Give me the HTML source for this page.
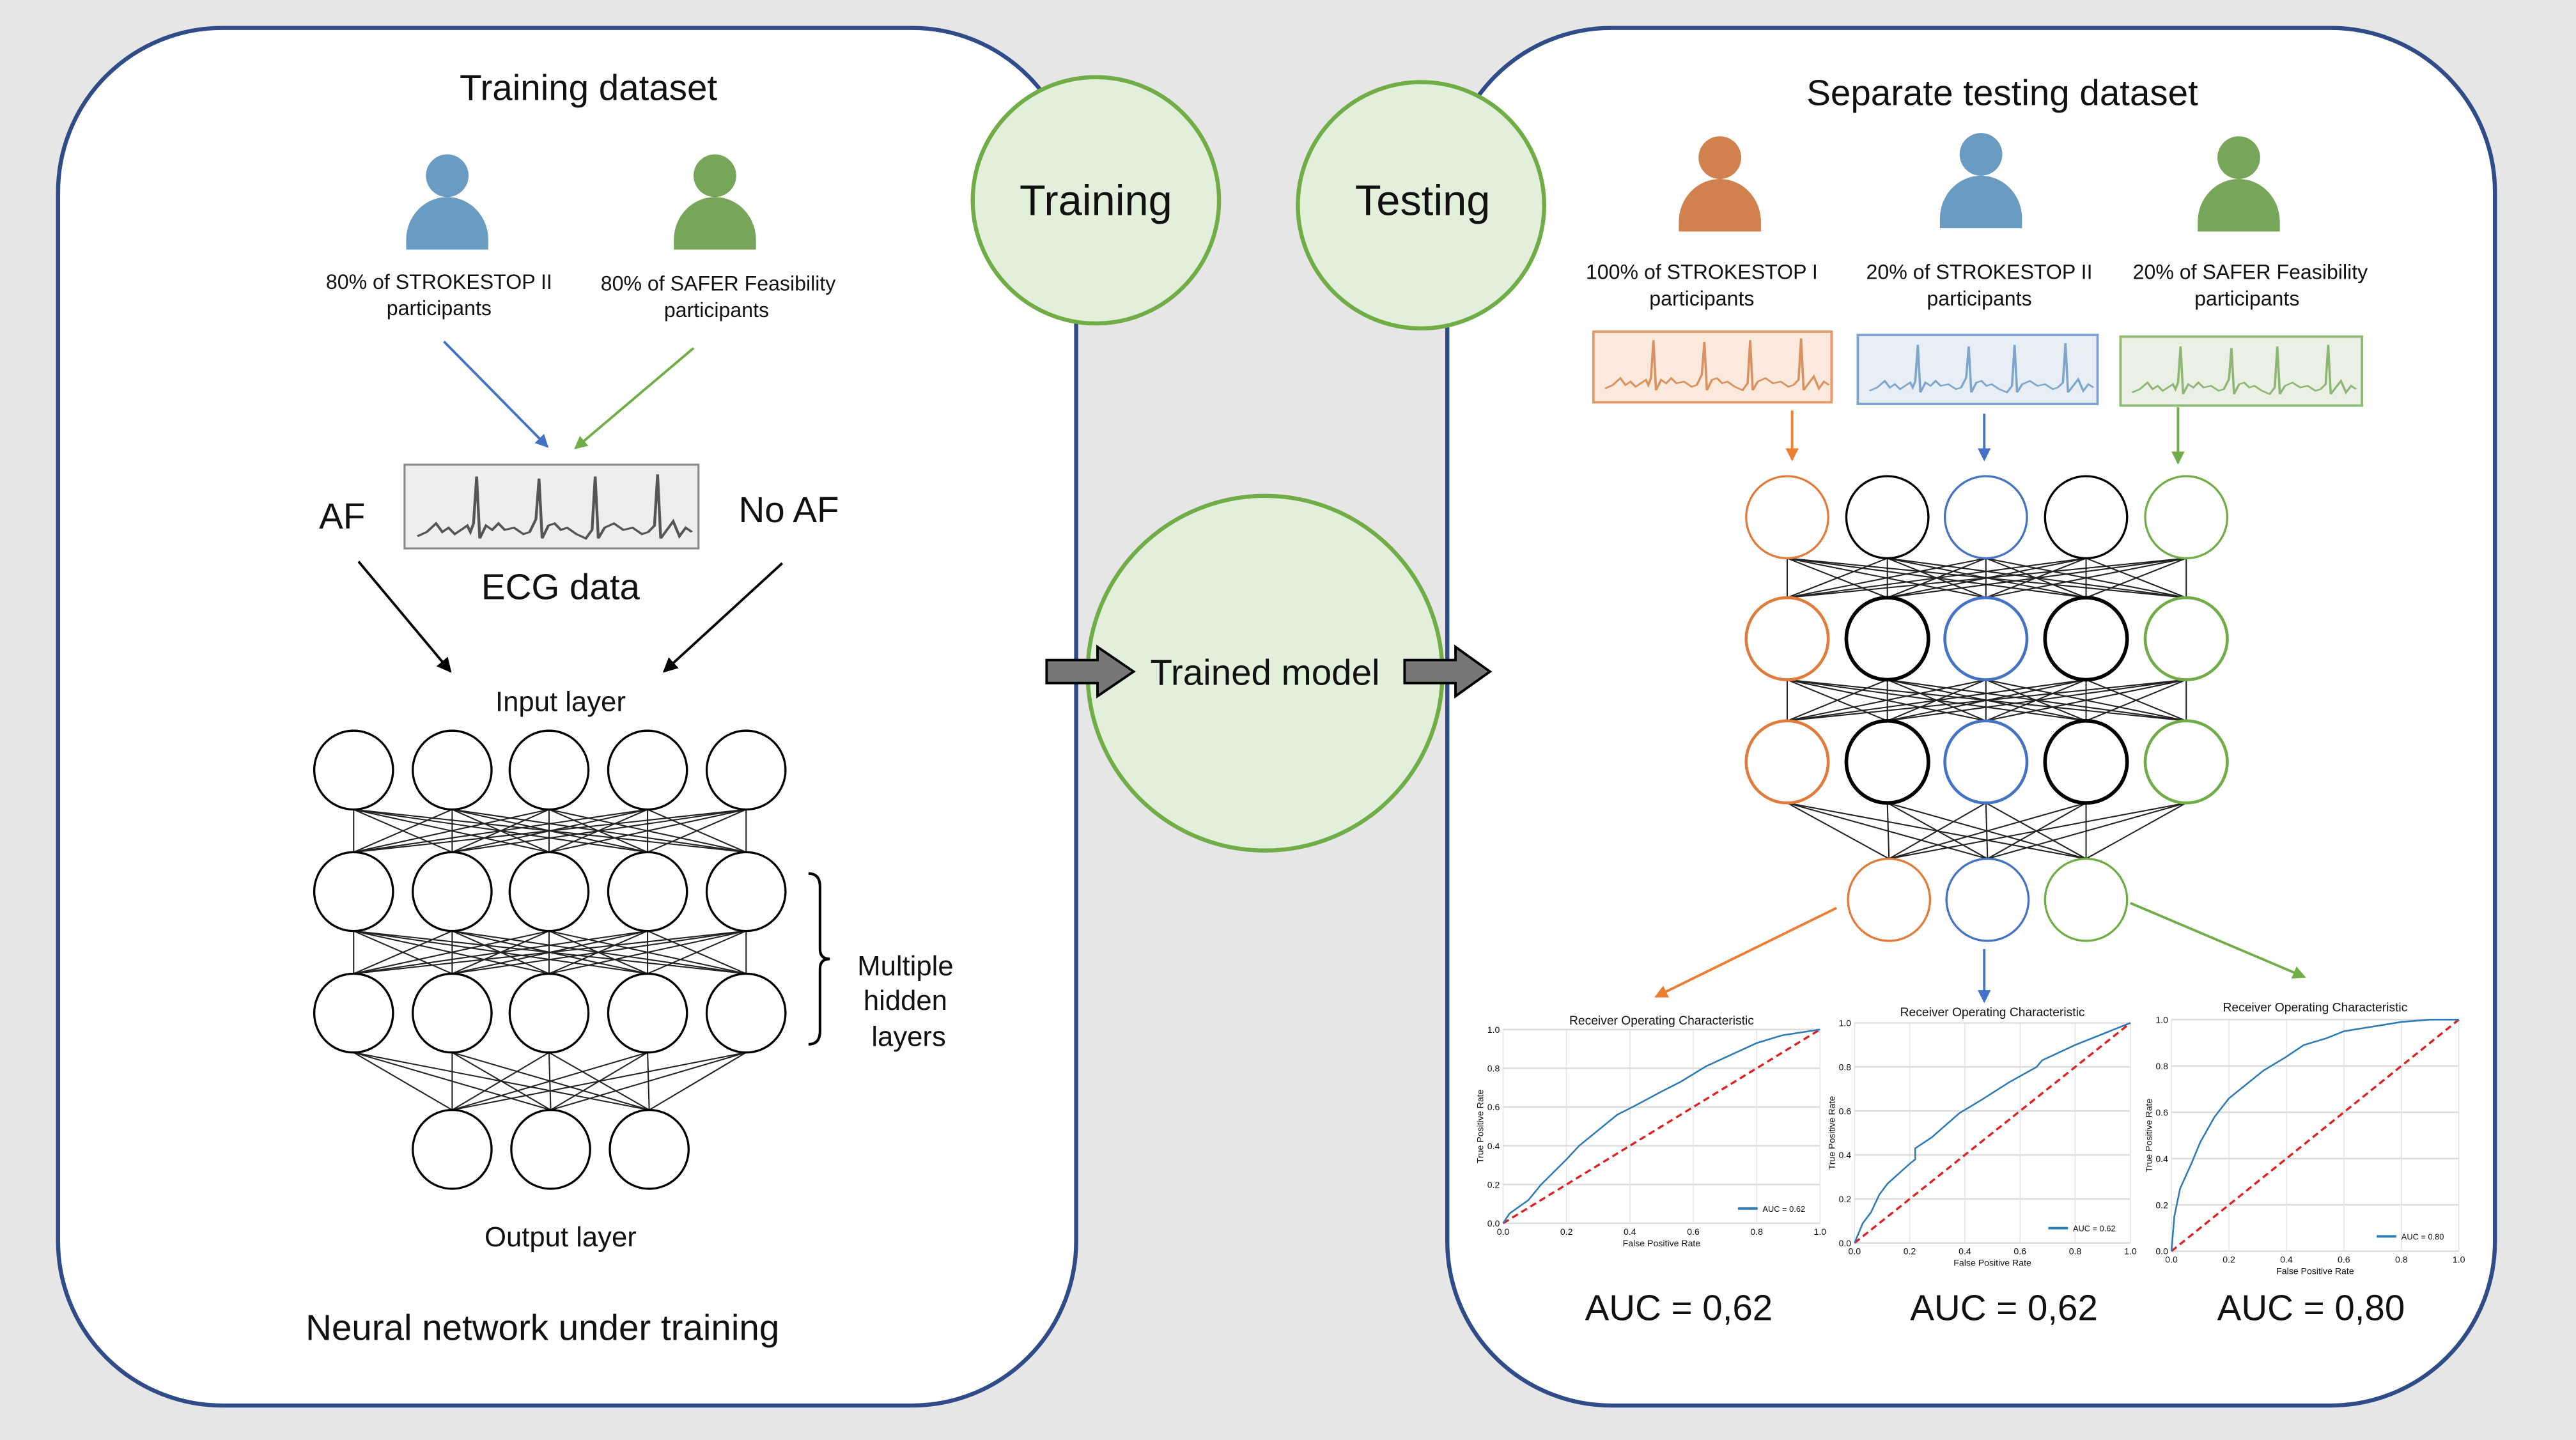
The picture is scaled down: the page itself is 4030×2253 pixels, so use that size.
<!DOCTYPE html>
<html><head><meta charset="utf-8">
<style>
html,body{margin:0;padding:0;background:#e7e6e7;}
svg{display:block;}
text{font-family:"Liberation Sans",sans-serif;fill:#111;}
</style></head>
<body>
<svg id="s" width="4030" height="2253" viewBox="0 0 1568 877" xmlns="http://www.w3.org/2000/svg">
<defs>
<marker id="ab" markerWidth="8" markerHeight="8" refX="7" refY="4" orient="auto" markerUnits="userSpaceOnUse"><path d="M0,0 L8,4 L0,8 z" fill="#4472c4"/></marker>
<marker id="ag" markerWidth="8" markerHeight="8" refX="7" refY="4" orient="auto" markerUnits="userSpaceOnUse"><path d="M0,0 L8,4 L0,8 z" fill="#70ad47"/></marker>
<marker id="ao" markerWidth="8" markerHeight="8" refX="7" refY="4" orient="auto" markerUnits="userSpaceOnUse"><path d="M0,0 L8,4 L0,8 z" fill="#ed7d31"/></marker>
<marker id="ak" markerWidth="9" markerHeight="9" refX="8" refY="4.5" orient="auto" markerUnits="userSpaceOnUse"><path d="M0,0 L9,4.5 L0,9 z" fill="#000"/></marker>
<path id="ecg" d="M2,32 L5,30 L8,26 L10,30 L12,28 L14,31 L16,29 L18,27 L19,30 L20,26 L21,4 L22,33 L24,27 L26,29 L28,26 L30,29 L33,28 L36,31 L38,30 L40,24 L41,5 L42,33 L44,27 L46,26 L48,29 L50,28 L53,31 L56,33 L58,29 L59,4 L60,33 L62,28 L65,26 L68,29 L71,28 L74,31 L76,30 L78,27 L79,3 L80,33 L82,29 L84,25 L86,32 L88,28 L90,30" fill="none" stroke-width="0.9"/>
</defs>
<rect x="0" y="0" width="1568" height="877" fill="#e7e6e7"/>
<!-- panels -->
<rect x="35" y="17" width="620" height="839" rx="100" fill="#fff" stroke="#2f4b88" stroke-width="2.5"/>
<rect x="881" y="17" width="638" height="839" rx="100" fill="#fff" stroke="#2f4b88" stroke-width="2.5"/>
<g id="dyn"></g>
<!-- circles -->
<circle cx="667" cy="122" r="75" fill="#e2efda" stroke="#70ad47" stroke-width="2.5"/>
<text x="667" y="131" font-size="26" text-anchor="middle">Training</text>
<circle cx="865" cy="125" r="75" fill="#e2efda" stroke="#70ad47" stroke-width="2.5"/>
<text x="866" y="131" font-size="26" text-anchor="middle">Testing</text>
<circle cx="770" cy="410" r="108" fill="#e2efda" stroke="#70ad47" stroke-width="2.5"/>
<text x="770" y="417" font-size="22" text-anchor="middle">Trained model</text>
<!-- block arrows -->
<path d="M637,402 L668,402 L668,394 L690,409 L668,424 L668,416 L637,416 z" fill="#777" stroke="#000" stroke-width="1.5"/>
<path d="M855,402 L886,402 L886,394 L907,409 L886,424 L886,416 L855,416 z" fill="#777" stroke="#000" stroke-width="1.5"/>

<!-- left texts -->
<text x="358" y="61" font-size="22" text-anchor="middle">Training dataset</text>
<text x="267" y="176" font-size="12.5" text-anchor="middle">80% of STROKESTOP II</text>
<text x="267" y="192" font-size="12.5" text-anchor="middle">participants</text>
<text x="437" y="177" font-size="12.5" text-anchor="middle">80% of SAFER Feasibility</text>
<text x="436" y="193" font-size="12.5" text-anchor="middle">participants</text>
<line x1="270" y1="208" x2="333" y2="272" stroke="#4472c4" stroke-width="1.5" marker-end="url(#ab)"/>
<line x1="422" y1="212" x2="350" y2="273" stroke="#70ad47" stroke-width="1.5" marker-end="url(#ag)"/>
<rect x="246" y="283" width="179" height="51" fill="#eeeeee" stroke="#888" stroke-width="1.2"/>
<use href="#ecg" transform="translate(250,285) scale(1.9,1.3)" stroke="#555"/>
<text x="208" y="322" font-size="22" text-anchor="middle">AF</text>
<text x="480" y="318" font-size="22" text-anchor="middle">No AF</text>
<text x="341" y="365" font-size="22" text-anchor="middle">ECG data</text>
<line x1="218" y1="342" x2="274" y2="409" stroke="#000" stroke-width="1.5" marker-end="url(#ak)"/>
<line x1="476" y1="343" x2="404" y2="409" stroke="#000" stroke-width="1.5" marker-end="url(#ak)"/>
<text x="341" y="433" font-size="17" text-anchor="middle">Input layer</text>
<path d="M492,532 Q499,532 499,540 L499,578 Q499,584 505,584 Q499,584 499,590 L499,628 Q499,636 492,636" fill="none" stroke="#000" stroke-width="1.6"/>
<text x="551" y="594" font-size="17" text-anchor="middle">Multiple</text>
<text x="551" y="615" font-size="17" text-anchor="middle">hidden</text>
<text x="553" y="637" font-size="17" text-anchor="middle">layers</text>
<text x="341" y="759" font-size="17" text-anchor="middle">Output layer</text>
<text x="330" y="816" font-size="22" text-anchor="middle">Neural network under training</text>

<!-- right texts -->
<text x="1219" y="64" font-size="22" text-anchor="middle">Separate testing dataset</text>
<text x="1036" y="170" font-size="12.5" text-anchor="middle">100% of STROKESTOP I</text>
<text x="1036" y="186" font-size="12.5" text-anchor="middle">participants</text>
<text x="1205" y="170" font-size="12.5" text-anchor="middle">20% of STROKESTOP II</text>
<text x="1205" y="186" font-size="12.5" text-anchor="middle">participants</text>
<text x="1370" y="170" font-size="12.5" text-anchor="middle">20% of SAFER Feasibility</text>
<text x="1368" y="186" font-size="12.5" text-anchor="middle">participants</text>
<rect x="970" y="202" width="145" height="43" fill="#fbe9dd" stroke="#e39b6c" stroke-width="1.5"/>
<use href="#ecg" transform="translate(974,203) scale(1.55,1.05)" stroke="#d9925f"/>
<rect x="1131" y="204" width="146" height="42" fill="#e8eef6" stroke="#7fa3cc" stroke-width="1.5"/>
<use href="#ecg" transform="translate(1135,206) scale(1.55,1.0)" stroke="#7ea6cb"/>
<rect x="1291" y="205" width="147" height="42" fill="#eaf1e4" stroke="#93bb78" stroke-width="1.5"/>
<use href="#ecg" transform="translate(1295,207) scale(1.55,1.0)" stroke="#8db574"/>
<line x1="1091" y1="250" x2="1091" y2="280" stroke="#ed7d31" stroke-width="1.5" marker-end="url(#ao)"/>
<line x1="1208" y1="252" x2="1208" y2="280" stroke="#4472c4" stroke-width="1.5" marker-end="url(#ab)"/>
<line x1="1326" y1="248" x2="1326" y2="282" stroke="#70ad47" stroke-width="1.5" marker-end="url(#ag)"/>
<line x1="1118" y1="553" x2="1008" y2="607" stroke="#ed7d31" stroke-width="1.5" marker-end="url(#ao)"/>
<line x1="1208" y1="578" x2="1208" y2="610" stroke="#4472c4" stroke-width="1.5" marker-end="url(#ab)"/>
<line x1="1297" y1="550" x2="1403" y2="595" stroke="#70ad47" stroke-width="1.5" marker-end="url(#ag)"/>
<g id="roc"></g>
<text x="1022" y="804" font-size="22" text-anchor="middle">AUC = 0,62</text>
<text x="1220" y="804" font-size="22" text-anchor="middle">AUC = 0,62</text>
<text x="1407" y="804" font-size="22" text-anchor="middle">AUC = 0,80</text>
</svg>
<script>
const NS="http://www.w3.org/2000/svg";
const dyn=document.getElementById("dyn"), roc=document.getElementById("roc");
function el(p,t,a,txt){const e=document.createElementNS(NS,t);for(const k in a)e.setAttribute(k,a[k]);if(txt!==undefined)e.textContent=txt;p.appendChild(e);return e;}
function net(cols,rows,outX,outY,r,colors,widths){
  const layers=rows.map(y=>cols.map((x,i)=>[x,y,colors[i],widths?widths[i]:1.3]));
  layers.push(outX.map((x,i)=>[x,outY,colors.length>3?[colors[0],colors[2],colors[4]][i]:"#000",1.3]));
  for(let l=0;l<layers.length-1;l++)for(const a of layers[l])for(const b of layers[l+1])
    el(dyn,"line",{x1:a[0],y1:a[1]+r,x2:b[0],y2:b[1]-r,stroke:"#222","stroke-width":0.8});
  layers.forEach((L,li)=>L.forEach(n=>el(dyn,"circle",{cx:n[0],cy:n[1],r:r,fill:"#fff",stroke:n[2],"stroke-width":(li>0&&li<3&&n[2]=="#000"&&widths)?2.2:n[3]})));
}
net([215,275,334,394,454],[469,543,617],[275,335,395],700,24,["#000","#000","#000","#000","#000"],null);
const O="#e07b39",B="#4472c4",G="#70ad47",K="#000";
// right: custom with output colors
(function(){
  const cols=[1088,1149,1209,1270,1331],rows=[315,389,464],r=25,cc=[O,K,B,K,G];
  const outs=[[1150,548,O],[1210,548,B],[1270,548,G]];
  for(let l=0;l<2;l++)for(const a of cols)for(const b of cols)el(dyn,"line",{x1:a,y1:rows[l]+r,x2:b,y2:rows[l+1]-r,stroke:"#222","stroke-width":0.8});
  for(const a of cols)for(const o of outs)el(dyn,"line",{x1:a,y1:rows[2]+r,x2:o[0],y2:o[1]-r,stroke:"#222","stroke-width":0.8});
  rows.forEach((y,li)=>cols.forEach((x,i)=>el(dyn,"circle",{cx:x,cy:y,r:r,fill:"#fff",stroke:cc[i],"stroke-width":(cc[i]==K&&li>0)?2.2:(li>0?1.8:1.3)})));
  outs.forEach(o=>el(dyn,"circle",{cx:o[0],cy:o[1],r:r,fill:"#fff",stroke:o[2],"stroke-width":1.3}));
})();
// ROC plots
function plot(x0,y0,x1,y1,titleY,pts,auc){
  const W=x1-x0,H=y1-y0,fx=v=>x0+v*W,fy=v=>y1-v*H;
  el(roc,"text",{x:(x0+x1)/2,y:titleY,"font-size":7.5,"text-anchor":"middle",fill:"#333"},"Receiver Operating Characteristic");
  for(let i=0;i<=5;i++){const v=i/5;
    el(roc,"line",{x1:fx(v),y1:y0,x2:fx(v),y2:y1,stroke:"#e4e4e4","stroke-width":0.6});
    el(roc,"line",{x1:x0,y1:fy(v),x2:x1,y2:fy(v),stroke:"#ddd","stroke-width":1});
    el(roc,"text",{x:fx(v),y:y1+7,"font-size":5.5,"text-anchor":"middle",fill:"#444"},v.toFixed(1));
    el(roc,"text",{x:x0-2,y:fy(v)+2,"font-size":5.5,"text-anchor":"end",fill:"#444"},v.toFixed(1));
  }
  el(roc,"text",{x:(x0+x1)/2,y:y1+14,"font-size":5.5,"text-anchor":"middle",fill:"#444"},"False Positive Rate");
  el(roc,"text",{x:0,y:0,"font-size":5.5,"text-anchor":"middle",fill:"#444",transform:`translate(${x0-12},${(y0+y1)/2}) rotate(-90)`},"True Positive Rate");
  el(roc,"line",{x1:fx(0),y1:fy(0),x2:fx(1),y2:fy(1),stroke:"#e02020","stroke-width":1.3,"stroke-dasharray":"4,2.5"});
  el(roc,"polyline",{points:pts.map(p=>fx(p[0])+","+fy(p[1])).join(" "),fill:"none",stroke:"#2d7bb6","stroke-width":1});
  el(roc,"line",{x1:x1-50,y1:y1-9,x2:x1-38,y2:y1-9,stroke:"#2d7bb6","stroke-width":1.5});
  el(roc,"text",{x:x1-35,y:y1-7,"font-size":5,fill:"#444"},"AUC = "+auc);
}
plot(915,627,1108,745,624,[[0,0],[0.02,0.05],[0.08,0.12],[0.12,0.2],[0.2,0.33],[0.24,0.4],[0.3,0.48],[0.36,0.56],[0.42,0.61],[0.5,0.68],[0.56,0.73],[0.64,0.81],[0.72,0.87],[0.8,0.93],[0.88,0.97],[1,1]],"0.62");
plot(1129,623,1297,757,619,[[0,0],[0.03,0.09],[0.06,0.14],[0.09,0.22],[0.12,0.27],[0.2,0.36],[0.22,0.38],[0.22,0.43],[0.28,0.48],[0.38,0.59],[0.46,0.65],[0.56,0.73],[0.66,0.8],[0.68,0.83],[0.8,0.9],[0.92,0.96],[1,1]],"0.62");
plot(1322,621,1497,762,616,[[0,0],[0.01,0.15],[0.03,0.27],[0.07,0.38],[0.1,0.47],[0.15,0.58],[0.2,0.66],[0.26,0.72],[0.32,0.78],[0.4,0.84],[0.46,0.89],[0.54,0.92],[0.6,0.95],[0.7,0.97],[0.8,0.99],[0.9,1],[1,1]],"0.80");
// person icons
function person(cx,top,col){
  el(dyn,"circle",{cx:cx,cy:top+13,r:13,fill:col});
  el(dyn,"path",{d:`M${cx-25},${top+58} L${cx-25},${top+52} A25,26 0 0 1 ${cx+25},${top+52} L${cx+25},${top+58} z`,fill:col});
}
person(272,94,"#6a9bc3");person(435,94,"#77a55a");
person(1047,83,"#d0814e");person(1206,81,"#6a9bc3");person(1363,83,"#77a55a");
</script>
</body></html>
